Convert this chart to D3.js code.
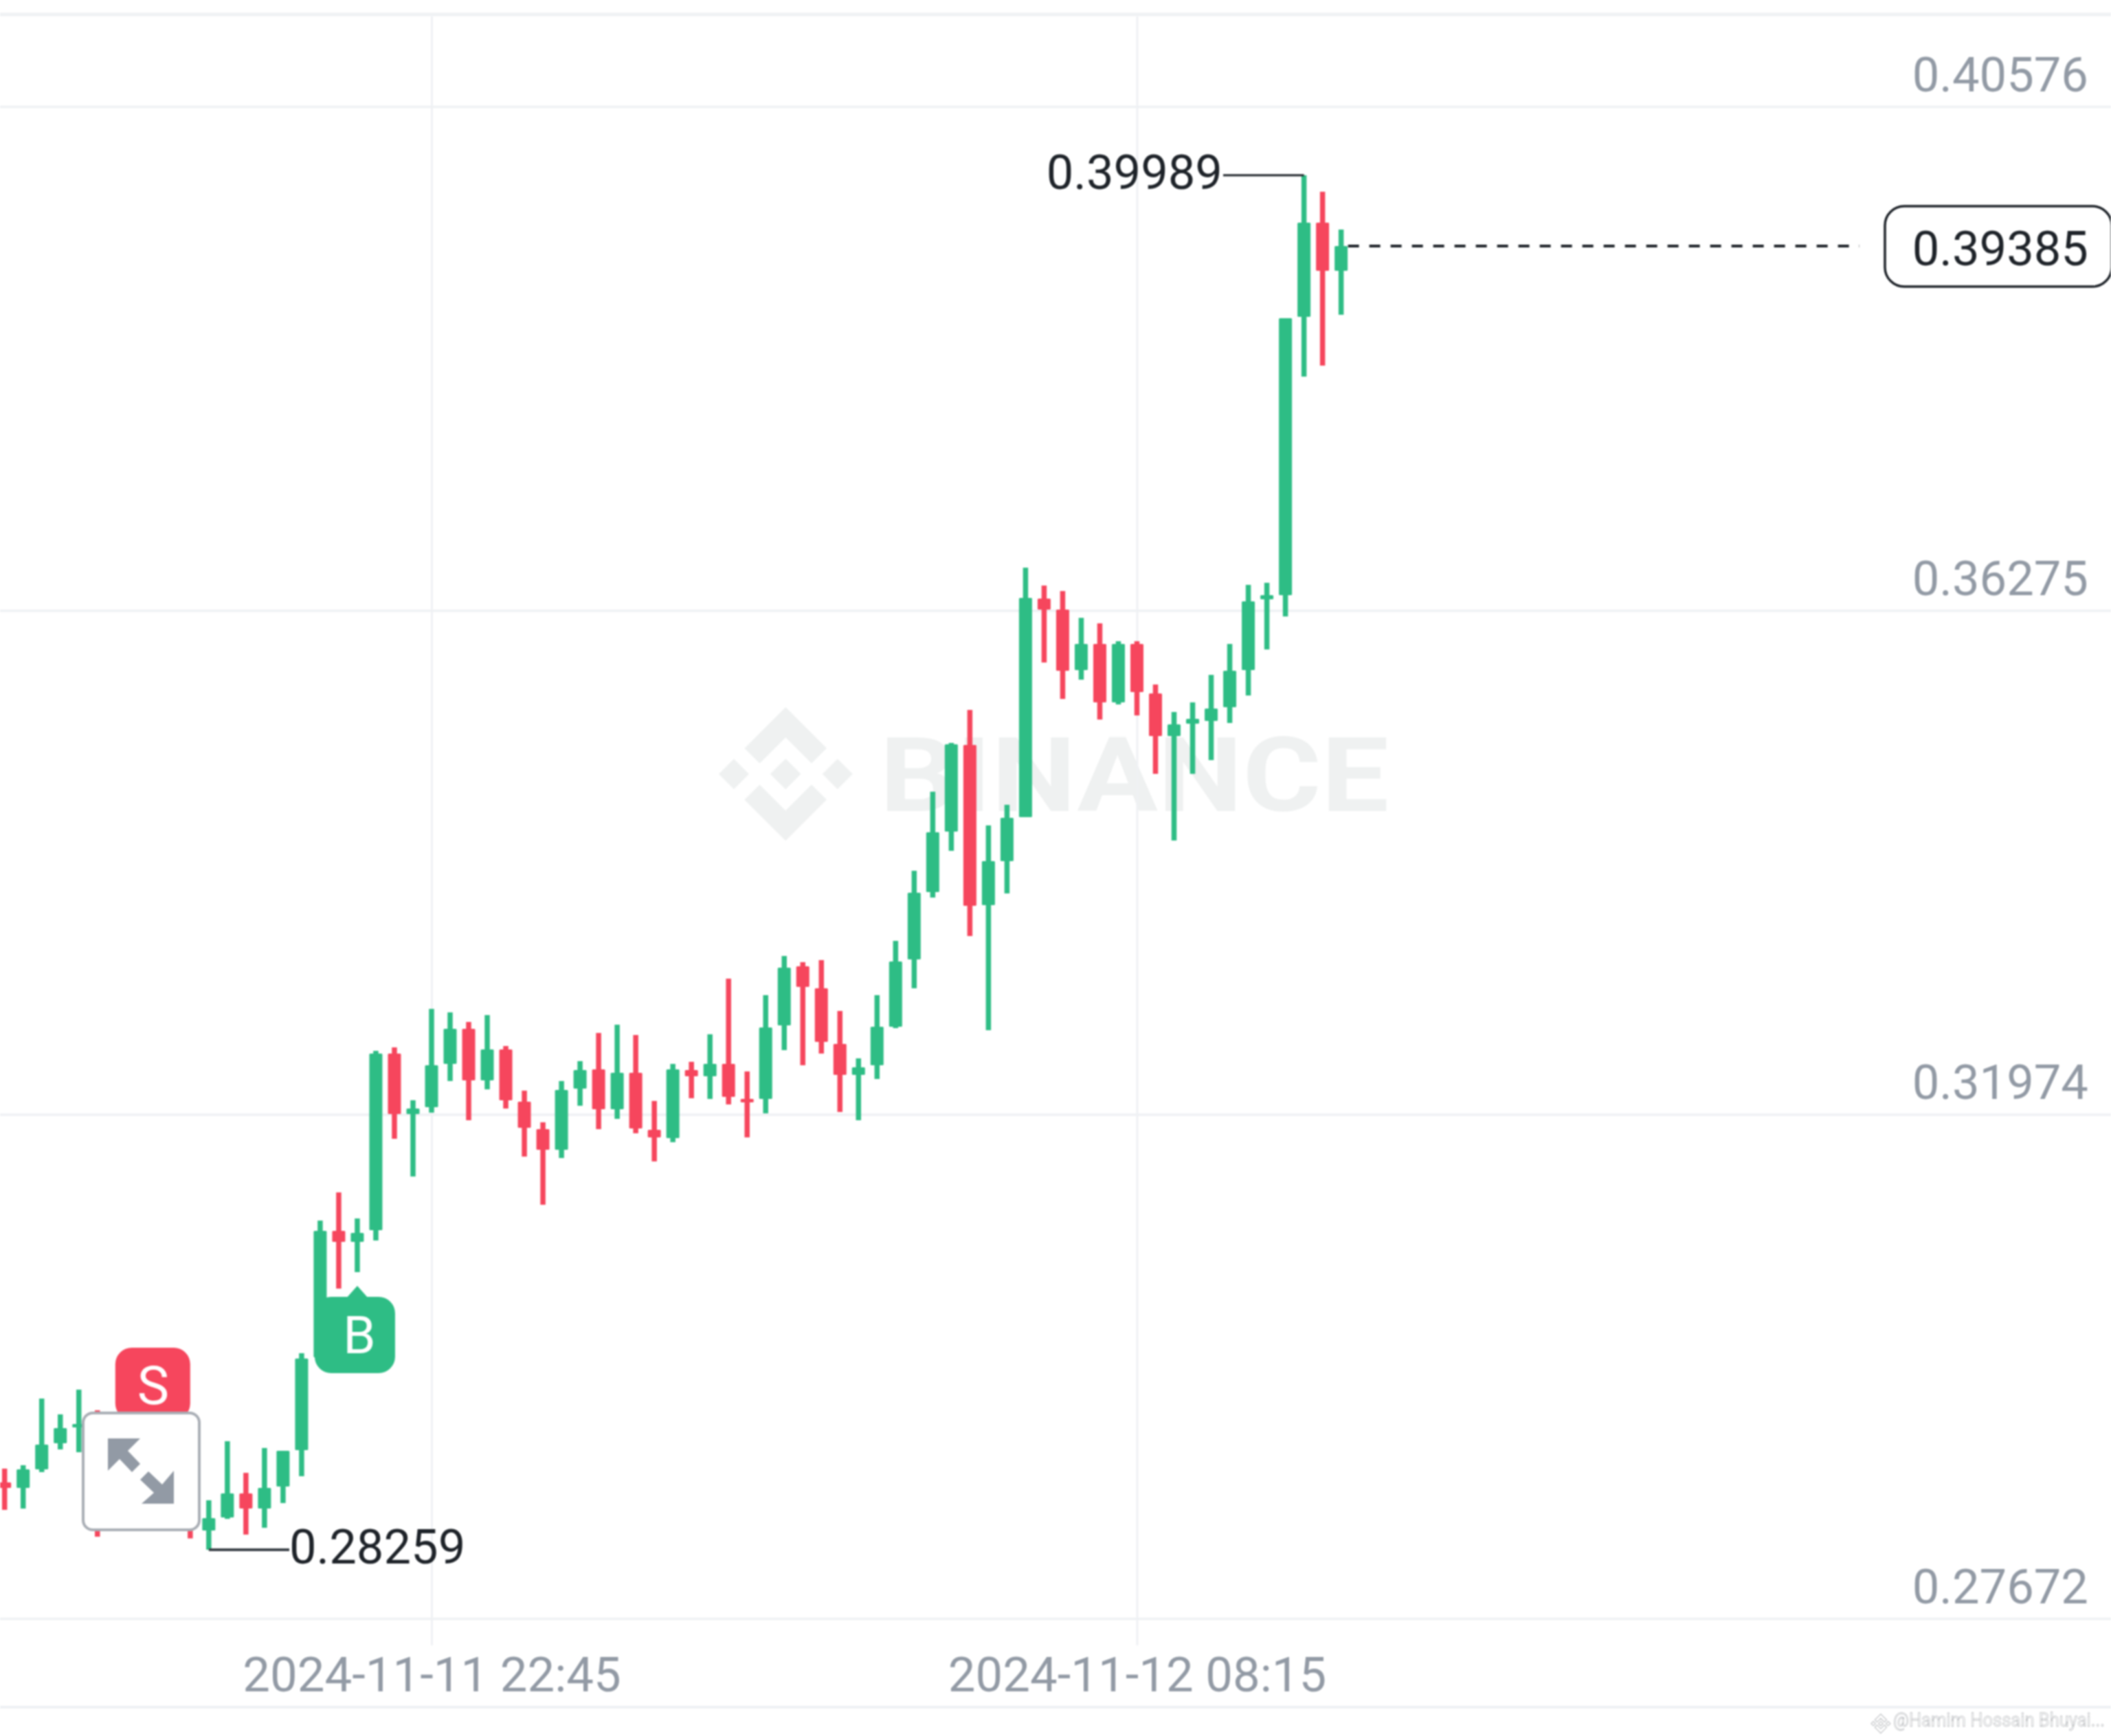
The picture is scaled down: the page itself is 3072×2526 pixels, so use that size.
<!DOCTYPE html>
<html>
<head>
<meta charset="utf-8">
<script src="https://cdn.jsdelivr.net/npm/d3@7/dist/d3.min.js"></script>
<style>
html,body{margin:0;padding:0;background:#fff;overflow:hidden}
svg{display:block;filter:blur(1px)}
text{font-family:Roboto,"Noto Sans",sans-serif}
</style>
</head>
<body>
<svg id="chart" width="3072" height="2526"></svg>
<script>
// 15-minute candles; the first one opens 23 bars before the 22:45 tick
const firstCandle = "2024-11-11T17:00:00Z";
const intervalMinutes = 15;
const opens  = [.28833,.28786,.28945,.29168,.29303,.29197,.28757,.28850,.29000,.28800,.28750,.28423,.28534,.28739,.28610,.28798,.29109,.29901,.30980,.30886,.30986,.32493,.31977,.32036,.32405,.32705,.32265,.32529,.32083,.31848,.31672,.32194,.32359,.32018,.32329,.31842,.31772,.32353,.32300,.32405,.32106,.32106,.32734,.33238,.33051,.32576,.32312,.32394,.32722,.33297,.33872,.34388,.35127,.33760,.34136,.34511,.36376,.36282,.35766,.35989,.35491,.35989,.35567,.35203,.35309,.35332,.35450,.35766,.36371,.36406,.38781,.39585,.39174];
const highs  = [.28951,.28980,.29549,.29414,.29625,.29449,.29250,.29350,.29400,.29200,.29150,.28681,.29185,.28915,.29127,.29103,.29936,.31068,.31309,.31086,.32517,.32546,.32095,.32875,.32845,.32763,.32822,.32558,.32177,.31907,.32259,.32429,.32669,.32740,.32652,.32089,.32405,.32423,.32658,.33133,.32341,.32992,.33326,.33274,.33291,.32857,.32452,.32992,.33455,.34054,.34728,.35145,.35426,.34441,.34617,.36640,.36488,.36441,.36212,.36165,.36013,.36013,.35643,.35409,.35491,.35725,.35989,.36494,.36511,.38770,.39989,.39849,.39526];
const lows   = [.28599,.28610,.28921,.29115,.29091,.28370,.28600,.28700,.28600,.28500,.28355,.28259,.28522,.28388,.28446,.28657,.28886,.29842,.30487,.30628,.30898,.31766,.31444,.31989,.32259,.31924,.32188,.32024,.31614,.31203,.31602,.32048,.31848,.31936,.31813,.31573,.31737,.32112,.32106,.32059,.31778,.31983,.32523,.32394,.32493,.31995,.31924,.32276,.32710,.33051,.33825,.34224,.33496,.32693,.33860,.34511,.35831,.35520,.35684,.35344,.35473,.35379,.34881,.34312,.34881,.34998,.35315,.35549,.35942,.36224,.38271,.38365,.38799];
const closes = [.28786,.28945,.29156,.29297,.29332,.28757,.28850,.29000,.28800,.28750,.28550,.28528,.28739,.28610,.28786,.29103,.29890,.30980,.30886,.30963,.32493,.31977,.32024,.32394,.32705,.32265,.32529,.32095,.31860,.31672,.32183,.32353,.32018,.32329,.31854,.31778,.32359,.32300,.32405,.32124,.32077,.32716,.33227,.33062,.32593,.32312,.32376,.32722,.33279,.33866,.34382,.35133,.33754,.34136,.34505,.36382,.36282,.35761,.35989,.35491,.35989,.35579,.35203,.35303,.35350,.35438,.35761,.36353,.36406,.38770,.39585,.39174,.39385];

const priceTicks = [0.40576, 0.36275, 0.31974, 0.27672];
const timeTicks  = ["2024-11-11T22:45:00Z", "2024-11-12T08:15:00Z"];
const lastPrice  = 0.39385;
const maxPrice   = 0.39989;
const minPrice   = 0.28259;
const sellMarkerIndex = 8;   // bar carrying the S flag
const buyMarkerIndex  = 19;  // bar carrying the B flag
const watermarkText = "BINANCE";
const creditText = "@Hamim Hossain Bhuyai...";

const GREEN = "#2EBD85", RED = "#F6465D", GRID = "#EFF1F4", AXIS = "#929AA5", INK = "#1E2329";
const LOGO = "M38.73 53.2l24.59-24.58 24.6 24.6 14.3-14.31L63.32 0 24.42 38.9zM0 63.31l14.3-14.31 14.31 14.31-14.31 14.3zM38.73 73.41l24.59 24.59 24.6-24.6 14.31 14.29-38.9 38.91-38.91-38.88-.02-.02zM98.28 63.31l14.3-14.31 14.31 14.3-14.31 14.32zM77.83 63.3L63.32 48.78 52.59 59.51l-1.24 1.23-2.54 2.54 14.51 14.5 14.51-14.47z";

const dates = opens.map((_, i) => new Date(+new Date(firstCandle) + i * intervalMinutes * 60000));
const candles = opens.map((o, i) => ({t: dates[i], o, h: highs[i], l: lows[i], c: closes[i]}));

const x = d3.scaleUtc().domain(timeTicks.map(d => new Date(d))).range([628, 1654.5]);
const y = d3.scaleLinear().domain([priceTicks[3], priceTicks[0]]).range([2355, 155]);

const svg = d3.select("#chart");
svg.append("rect").attr("width", 3072).attr("height", 2526).attr("fill", "#fff");

// watermark
const wm = svg.append("g");
wm.append("path").attr("d", LOGO).attr("fill", "#EFF1F1")
  .attr("transform", "translate(1046,1029) scale(1.535)");
wm.append("text").text(watermarkText)
  .attr("x", 1280).attr("y", 1180).attr("font-size", 150).attr("font-weight", 700)
  .attr("textLength", 741).attr("lengthAdjust", "spacingAndGlyphs").attr("fill", "#EFF1F1");

// frame lines
svg.append("line").attr("x1", 0).attr("x2", 3072).attr("y1", 21).attr("y2", 21).attr("stroke", GRID).attr("stroke-width", 5);
svg.append("line").attr("x1", 0).attr("x2", 3072).attr("y1", 2484).attr("y2", 2484).attr("stroke", GRID).attr("stroke-width", 4);

// y axis
const yAxis = svg.append("g").attr("transform", "translate(0,0)")
  .call(d3.axisRight(y).tickValues(priceTicks).tickFormat(d3.format(".5f")).tickSize(3072).tickPadding(0));
yAxis.select(".domain").remove();
yAxis.selectAll(".tick line").attr("stroke", GRID).attr("stroke-width", 3.5);
yAxis.selectAll(".tick text")
  .attr("x", 3039).attr("dy", null).attr("y", -23).attr("text-anchor", "end")
  .attr("font-size", 70.5).attr("fill", AXIS).style("font-family","Roboto");

// x axis
const xAxis = svg.append("g").attr("transform", "translate(0,2394)")
  .call(d3.axisBottom(x).tickValues(timeTicks.map(d => new Date(d))).tickFormat(d3.utcFormat("%Y-%m-%d %H:%M")).tickSize(-2370).tickPadding(0));
xAxis.select(".domain").remove();
xAxis.selectAll(".tick line").attr("stroke", GRID).attr("stroke-width", 3);
xAxis.selectAll(".tick text")
  .attr("y", 67).attr("dy", null).attr("text-anchor", "middle")
  .attr("font-size", 70.7).attr("fill", AXIS).style("font-family","Roboto");

// candles
const g = svg.append("g");
const col = d => d.c >= d.o ? GREEN : RED;
g.selectAll(".wick").data(candles).join("line").attr("class", "wick")
  .attr("x1", d => x(d.t)).attr("x2", d => x(d.t))
  .attr("y1", d => y(d.h)).attr("y2", d => y(d.l))
  .attr("stroke", col).attr("stroke-width", 7.5);
g.selectAll(".body").data(candles).join("rect").attr("class", "body")
  .attr("x", d => x(d.t) - 9.5).attr("width", 19)
  .attr("y", d => y(Math.max(d.o, d.c)))
  .attr("height", d => Math.max(4, Math.abs(y(d.o) - y(d.c))))
  .attr("rx", 1.5)
  .attr("fill", col);

// extreme labels
const xMax = x(dates[closes.length - 3]);
const xMin = x(dates[lows.indexOf(minPrice)]);
svg.append("path").attr("d", d3.line()([[1780, y(maxPrice)], [xMax, y(maxPrice)]])).attr("stroke", INK).attr("stroke-width", 3).attr("fill", "none");
svg.append("text").text(d3.format(".5f")(maxPrice)).attr("x", 1779).attr("y", y(maxPrice) + 20)
  .attr("text-anchor", "end").attr("font-size", 70.5).attr("fill", INK);
svg.append("path").attr("d", d3.line()([[xMin, y(minPrice)], [421, y(minPrice)]])).attr("stroke", "#3b4148").attr("stroke-width", 4).attr("fill", "none");
svg.append("text").text(d3.format(".5f")(minPrice)).attr("x", 421).attr("y", y(minPrice) + 20)
  .attr("font-size", 70.5).attr("fill", INK);

// last price
svg.append("line").attr("x1", x(dates[dates.length - 1]) + 10).attr("x2", 2706)
  .attr("y1", y(lastPrice)).attr("y2", y(lastPrice))
  .attr("stroke", INK).attr("stroke-width", 4).attr("stroke-dasharray", "16 15");
svg.append("rect").attr("x", 2743).attr("y", y(lastPrice) - 58).attr("width", 330).attr("height", 117)
  .attr("rx", 28).attr("fill", "#fff").attr("stroke", INK).attr("stroke-width", 3.5);
svg.append("text").text(d3.format(".5f")(lastPrice)).attr("x", 3039).attr("y", y(lastPrice) + 28)
  .attr("text-anchor", "end").attr("font-size", 70.5).attr("fill", INK);

// S flag
const sx = x(dates[sellMarkerIndex]);
svg.append("rect").attr("x", sx - 55).attr("y", 1961).attr("width", 109).attr("height", 105).attr("rx", 24).attr("fill", RED);
svg.append("text").text("S").attr("x", sx).attr("y", 2043).attr("text-anchor", "middle").attr("font-size", 78).attr("fill", "#fff");

// B flag
const bx = x(dates[buyMarkerIndex]);
svg.append("path").attr("d", d3.line()([[bx - 16, 1889], [bx, 1871], [bx + 16, 1889]])).attr("fill", GREEN);
svg.append("rect").attr("x", bx - 62).attr("y", 1887).attr("width", 117).attr("height", 111).attr("rx", 24).attr("fill", GREEN);
svg.append("text").text("B").attr("x", bx + 3).attr("y", 1969).attr("text-anchor", "middle").attr("font-size", 76).attr("fill", "#fff");

// expand button
svg.append("rect").attr("x", 121).attr("y", 2056).attr("width", 169).attr("height", 170).attr("rx", 14)
  .attr("fill", "#fff").attr("stroke", "#A9AEB5").attr("stroke-width", 4);
const icon = svg.append("g").attr("fill", AXIS).attr("stroke", "none");
icon.append("path").attr("d", "M157 2093H204L186 2111L204 2130L192 2142L174 2123L157 2140Z");
icon.append("path").attr("d", "M253 2188H206L224 2172L204 2153L216 2141L236 2160L253 2140Z");

// credit
svg.append("path").attr("d", LOGO).attr("fill", "#fff").attr("stroke", "#BDBFC2").attr("stroke-width", 5)
  .attr("transform", "translate(2723,2494) scale(0.22)");
svg.append("text").text(creditText).attr("x", 2755).attr("y", 2512).attr("font-size", 27)
  .attr("textLength", 308).attr("lengthAdjust", "spacingAndGlyphs")
  .attr("fill", "#fff").attr("stroke", "#BDBFC2").attr("stroke-width", 0.8);
</script>
</body>
</html>
